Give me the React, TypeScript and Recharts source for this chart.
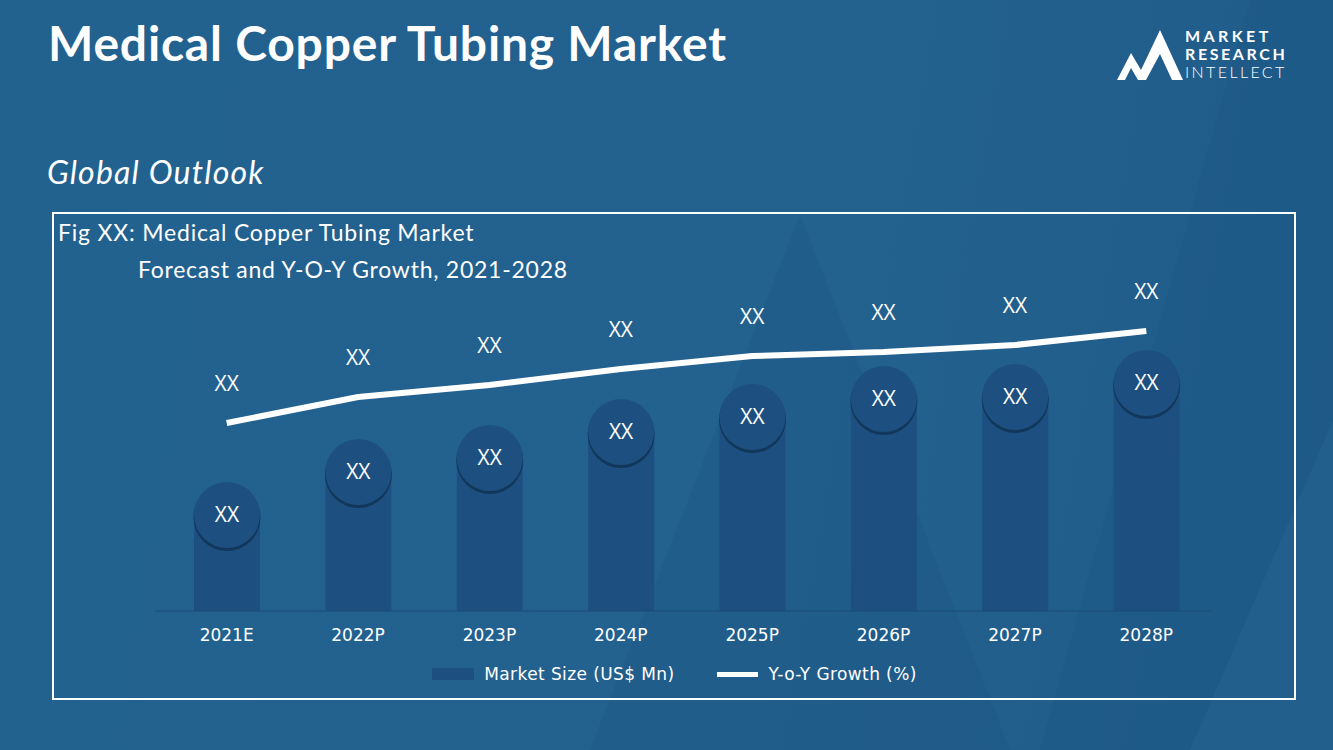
import { ComposedChart, Bar, Line, XAxis, YAxis, Legend, LabelList } from 'recharts';

const years = ['2021E', '2022P', '2023P', '2024P', '2025P', '2026P', '2027P', '2028P'];
const marketSize = [96, 139, 153, 179, 194, 212, 214, 228];
const yoyGrowth = [188, 214, 226, 242, 255, 259, 266, 280];
const valueLabels = ['XX', 'XX', 'XX', 'XX', 'XX', 'XX', 'XX', 'XX'];

const data = years.map((year, i) => ({
  year,
  size: marketSize[i],
  growth: yoyGrowth[i],
  label: valueLabels[i],
}));

const BAR = '#1d5081';
const FONT = '"DejaVu Sans", sans-serif';
const LABEL_FONT = '"Open Sans", sans-serif';

// bar with a round cap sitting on its top edge, like a pin
const CappedBar = (props: any) => {
  const { x, y, width, height, fill } = props;
  const cx = x + width / 2;
  const r = width / 2;
  return (
    <g>
      <rect x={x} y={y} width={width} height={height} fill={fill} />
      <circle cx={cx} cy={y + 2.5} r={r + 0.5} fill="#0d2f4e" opacity={0.75} />
      <circle cx={cx} cy={y} r={r} fill={fill} />
    </g>
  );
};

const CapLabel = (props: any) => {
  const { x, y, width, value } = props;
  return (
    <text x={x + width / 2} y={y + 7} textAnchor="middle" fill="#fff" fontSize={21} fontFamily={LABEL_FONT}>
      {value}
    </text>
  );
};

const LegendBox = () => (
  <div style={{ display: 'flex', justifyContent: 'center', alignItems: 'center', paddingLeft: 16, fontFamily: FONT, fontSize: 17, letterSpacing: 0.4, color: '#fff' }}>
    <span style={{ width: 42, height: 12, background: BAR, marginRight: 10 }} />
    <span style={{ marginRight: 42 }}>Market Size (US$ Mn)</span>
    <span style={{ width: 41, height: 5, background: '#fff', marginRight: 11 }} />
    <span>Y-o-Y Growth (%)</span>
  </div>
);

export default function App() {
  return (
    <div style={{ position: 'absolute', left: 0, top: 0, width: 1333, height: 750, overflow: 'hidden', background: `linear-gradient(100deg, #22628f 0%, #23618f 60%, #1f5b89 100%)` }}>
      <svg width={1333} height={750} style={{ position: 'absolute', left: 0, top: 0 }}>
        <polygon points="800,215 590,750 1010,750" fill="#1d5583" opacity={0.35} />
        <polygon points="1250,0 1333,0 1333,750 1040,750" fill="#1c5583" opacity={0.35} />
        <polygon points="1333,420 1333,750 1190,750" fill="#2a6a98" opacity={0.35} />
      </svg>

      <div style={{ position: 'absolute', left: 48, top: 14, color: '#fff', fontFamily: 'Lato, sans-serif', fontWeight: 700, fontSize: 48, letterSpacing: 0.8, whiteSpace: 'nowrap' }}>
        Medical Copper Tubing Market
      </div>
      <div style={{ position: 'absolute', left: 47, top: 152, color: '#fff', fontFamily: 'Lato, sans-serif', fontStyle: 'italic', fontSize: 32, letterSpacing: 1.2, whiteSpace: 'nowrap' }}>
        Global Outlook
      </div>

      <svg width={200} height={70} style={{ position: 'absolute', left: 1110, top: 20 }}>
        <polygon points="7,60 21,33 31,50 50,10 73,60 62,60 50,34 36,60 28,60 21,48 15,60" fill="#fff" />
        <text x={75} y={22} fill="#fff" fontFamily="Lato, sans-serif" fontWeight={700} fontSize={16} letterSpacing={3.4}>MARKET</text>
        <text x={75} y={40} fill="#fff" fontFamily="Lato, sans-serif" fontWeight={700} fontSize={16} letterSpacing={2.6}>RESEARCH</text>
        <text x={75} y={58} fill="#fff" fontFamily="Lato, sans-serif" fontWeight={300} fontSize={16} letterSpacing={2.4}>INTELLECT</text>
      </svg>

      <div style={{ position: 'absolute', left: 52, top: 212, width: 1240, height: 484, border: '2px solid #fff' }} />
      <div style={{ position: 'absolute', left: 58, top: 218, color: '#fff', fontFamily: 'Lato, sans-serif', fontSize: 23, letterSpacing: 0.8, whiteSpace: 'pre' }}>
        {'Fig XX: Medical Copper Tubing Market'}
      </div>
      <div style={{ position: 'absolute', left: 138, top: 255, color: '#fff', fontFamily: 'Lato, sans-serif', fontSize: 23, letterSpacing: 0.75, whiteSpace: 'pre' }}>
        Forecast and Y-O-Y Growth, 2021-2028
      </div>

      <div style={{ position: 'absolute', left: 0, top: 0 }}>
        <ComposedChart width={1333} height={750} data={data} margin={{ top: 311, right: 121, bottom: 109, left: 155 }}>
          <XAxis
            dataKey="year"
            height={30}
            padding={{ left: 6, right: 0 }}
            axisLine={{ stroke: '#1b4a75', strokeWidth: 1 }}
            tickLine={false}
            tickMargin={12}
            tick={{ fill: '#fff', fontSize: 17, fontFamily: FONT }}
          />
          <YAxis yAxisId="size" hide domain={[0, 300]} />
          <YAxis yAxisId="growth" orientation="right" hide domain={[0, 300]} />
          <Legend
            layout="horizontal"
            verticalAlign="middle"
            align="center"
            content={() => <LegendBox />}
            wrapperStyle={{ top: 664, left: 0, width: 1333 }}
          />
          <Bar yAxisId="size" dataKey="size" name="Market Size (US$ Mn)" fill={BAR} barSize={66} shape={CappedBar} isAnimationActive={false}>
            <LabelList dataKey="label" content={CapLabel} />
          </Bar>
          <Line
            yAxisId="growth"
            type="linear"
            dataKey="growth"
            name="Y-o-Y Growth (%)"
            stroke="#fff"
            strokeWidth={6}
            dot={false}
            activeDot={false}
            isAnimationActive={false}
          >
            <LabelList dataKey="label" position="top" offset={32} fill="#fff" fontSize={21} fontFamily={LABEL_FONT} />
          </Line>
        </ComposedChart>
      </div>
    </div>
  );
}
